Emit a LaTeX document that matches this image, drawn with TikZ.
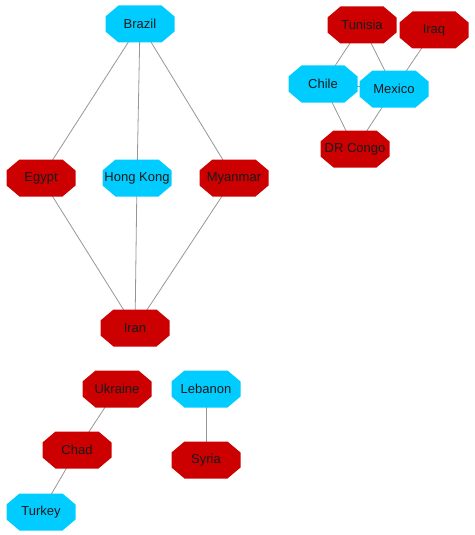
\documentclass[tikz,border=0pt]{standalone}
\usepackage{fontspec}
\setmainfont{Liberation Sans}
\usetikzlibrary{backgrounds}
\definecolor{nred}{RGB}{204,0,0}
\definecolor{nblue}{RGB}{0,204,255}
\definecolor{edgegray}{RGB}{150,150,150}
\tikzset{
  oct/.style={rectangle, minimum width=69pt, minimum height=37pt, inner sep=0pt, draw=none,
    font=\fontsize{13}{15}\selectfont, text=black!90,
    path picture={\fill[#1]
      ([xshift=13pt]path picture bounding box.north west) --
      ([xshift=-13pt]path picture bounding box.north east) --
      ([yshift=-11pt]path picture bounding box.north east) --
      ([yshift=11pt]path picture bounding box.south east) --
      ([xshift=-13pt]path picture bounding box.south east) --
      ([xshift=13pt]path picture bounding box.south west) --
      ([yshift=11pt]path picture bounding box.south west) --
      ([yshift=-11pt]path picture bounding box.north west) -- cycle;}},
  rednode/.style={oct=nred},
  bluenode/.style={oct=nblue},
  edge/.style={draw=edgegray, line width=0.8pt}
}
\begin{document}
\begin{tikzpicture}[x=1pt,y=-1pt]
\useasboundingbox (0,0) rectangle (474,535);
\node[bluenode] (brazil) at (140,24) {Brazil};
\node[rednode] (egypt) at (41,178) {Egypt};
\node[bluenode] (hk) at (137,178) {Hong Kong};
\node[rednode] (myanmar) at (234,178) {Myanmar};
\node[rednode] (iran) at (135,328) {Iran};
\node[rednode] (tunisia) at (362,25) {Tunisia};
\node[rednode] (iraq) at (434,30) {Iraq};
\node[bluenode] (chile) at (323,84) {Chile};
\node[bluenode] (mexico) at (394,89) {Mexico};
\node[rednode] (drc) at (355,149) {DR Congo};
\node[rednode] (ukraine) at (117,389) {Ukraine};
\node[bluenode] (lebanon) at (206,389) {Lebanon};
\node[rednode] (chad) at (77,450) {Chad};
\node[rednode] (syria) at (206,460) {Syria};
\node[bluenode] (turkey) at (41,512) {Turkey};
\begin{scope}[on background layer]
\draw[edge] (brazil.center) -- (egypt.center);
\draw[edge] (brazil.center) -- (hk.center);
\draw[edge] (brazil.center) -- (myanmar.center);
\draw[edge] (egypt.center) -- (iran.center);
\draw[edge] (hk.center) -- (iran.center);
\draw[edge] (myanmar.center) -- (iran.center);
\draw[edge] (tunisia.center) -- (chile.center);
\draw[edge] (tunisia.center) -- (mexico.center);
\draw[edge] (iraq.center) -- (mexico.center);
\draw[edge] (chile.center) -- (mexico.center);
\draw[edge] (chile.center) -- (drc.center);
\draw[edge] (mexico.center) -- (drc.center);
\draw[edge] (ukraine.center) -- (chad.center);
\draw[edge] (chad.center) -- (turkey.center);
\draw[edge] (lebanon.center) -- (syria.center);
\end{scope}
\end{tikzpicture}
\end{document}
